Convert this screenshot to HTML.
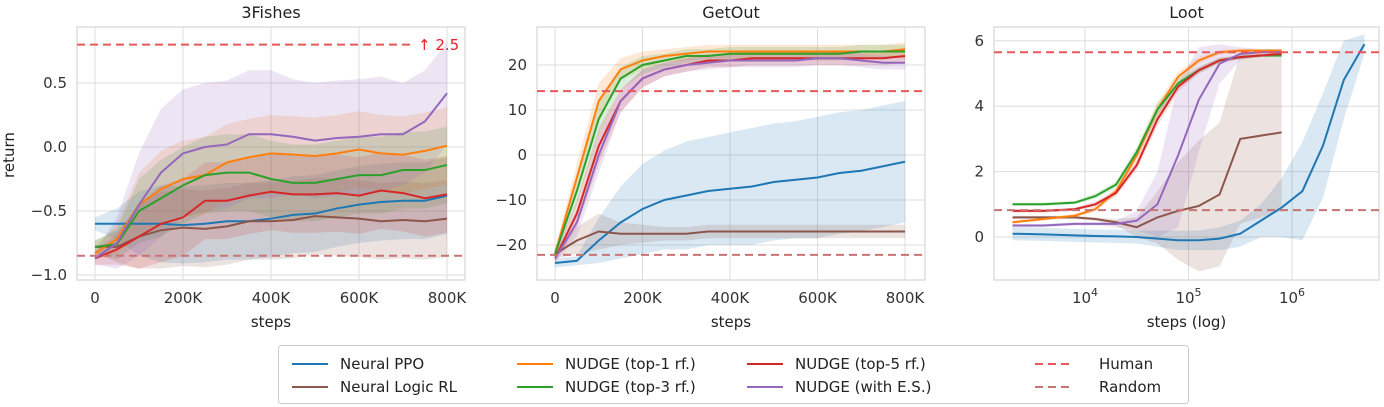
<!DOCTYPE html>
<html><head><meta charset="utf-8"><style>
body{margin:0;background:#fff;font-family:"Liberation Sans","DejaVu Sans",sans-serif}
svg{display:block}
</style></head><body>
<svg id="c" width="1384" height="407" viewBox="0 0 1384 407" font-family="DejaVu Sans, Liberation Sans, sans-serif"></svg>
<script>
const steps=[0,50,100,150,200,250,300,350,400,450,500,550,600,650,700,750,800];
const fishPurple=[-0.87,-0.75,-0.45,-0.2,-0.05,0,0.02,0.1,0.1,0.08,0.05,0.07,0.08,0.1,0.1,0.2,0.42];
const fishOrange=[-0.83,-0.72,-0.45,-0.33,-0.25,-0.22,-0.12,-0.08,-0.05,-0.06,-0.07,-0.05,-0.02,-0.05,-0.06,-0.03,0.01];
const fishGreen=[-0.78,-0.76,-0.5,-0.4,-0.3,-0.22,-0.2,-0.2,-0.25,-0.28,-0.28,-0.25,-0.22,-0.22,-0.18,-0.18,-0.14];
const fishRed=[-0.87,-0.8,-0.7,-0.6,-0.55,-0.42,-0.42,-0.38,-0.35,-0.37,-0.37,-0.36,-0.38,-0.34,-0.36,-0.4,-0.37];
const fishBlue=[-0.6,-0.6,-0.6,-0.6,-0.61,-0.6,-0.58,-0.58,-0.56,-0.53,-0.52,-0.48,-0.45,-0.43,-0.42,-0.42,-0.38];
const fishBrown=[-0.78,-0.78,-0.7,-0.65,-0.63,-0.64,-0.62,-0.58,-0.58,-0.57,-0.54,-0.55,-0.56,-0.58,-0.57,-0.58,-0.56];
const fishSpread=[0.05,0.12,0.25,0.3,0.3,0.3,0.3,0.3,0.3,0.3,0.3,0.3,0.3,0.3,0.3,0.3,0.3];
const fishPurpleSpread=[0.05,0.2,0.4,0.5,0.5,0.5,0.5,0.5,0.5,0.45,0.45,0.45,0.45,0.45,0.4,0.4,0.4];
const goOrange=[-22,-5,12,19,21,22,22.5,23,23,23,23,23,23,23,23,23,23.5];
const goGreen=[-22,-8,8,17,20,21,22,22,22.5,22.5,22.5,22.5,22.5,22.5,23,23,23];
const goRed=[-23,-13,2,12,17,19,20,21,21,21.5,21.5,21.5,21.5,21.5,21.5,21.5,22];
const goPurple=[-23,-15,0,12,17,19,20,20.5,21,21,21,21,21.5,21.5,21,20.5,20.5];
const goBlue=[-24,-23.5,-19,-15,-12,-10,-9,-8,-7.5,-7,-6,-5.5,-5,-4,-3.5,-2.5,-1.5];
const goBrown=[-22,-19,-17,-17.5,-17.5,-17.5,-17.5,-17,-17,-17,-17,-17,-17,-17,-17,-17,-17];
const goSpread=[1,3,4,2.5,2,1.5,1.5,1.5,1.5,1.5,1.5,1.5,1.5,1.5,1.5,1.5,1.5];
const goBlueSpread=[1,1,5,8,10,11,12,12,12.5,13,13,13,13.5,13.5,13.5,13.5,13.5];
const lootX=[3.3,3.6,3.9,4.1,4.3,4.5,4.7,4.9,5.1,5.3,5.5,5.7,5.9];
const lootBlueX=[3.3,3.6,3.9,4.1,4.3,4.5,4.7,4.9,5.1,5.3,5.5,5.7,5.9,6.1,6.3,6.5,6.7];
const lootGreen=[1.0,1.0,1.05,1.25,1.6,2.6,3.9,4.7,5.1,5.4,5.5,5.55,5.55];
const lootOrange=[0.45,0.55,0.65,0.85,1.4,2.5,3.9,4.9,5.4,5.65,5.7,5.7,5.7];
const lootRed=[0.8,0.8,0.85,1.0,1.35,2.2,3.6,4.6,5.1,5.4,5.5,5.55,5.6];
const lootPurple=[0.35,0.35,0.4,0.4,0.4,0.5,1.0,2.5,4.2,5.3,5.6,5.65,5.65];
const lootBrown=[0.6,0.6,0.6,0.55,0.45,0.3,0.6,0.8,0.95,1.3,3.0,3.1,3.2];
const lootBlue=[0.1,0.08,0.05,0.03,0.02,0,-0.05,-0.1,-0.1,-0.05,0.1,0.5,0.9,1.4,2.8,4.8,5.9];
const lootSpread=[0.05,0.05,0.05,0.08,0.1,0.15,0.2,0.15,0.1,0.08,0.06,0.05,0.05];
const lootPurpleSpread=[0.05,0.05,0.05,0.05,0.1,0.3,1.0,2.2,1.6,0.6,0.2,0.1,0.1];
const lootBrownSpread=[0.05,0.05,0.05,0.05,0.1,0.3,0.8,1.5,2.0,2.2,2.6,2.5,2.4];
const lootBlueSpread=[0.2,0.2,0.2,0.2,0.2,0.2,0.25,0.3,0.3,0.35,0.4,0.5,0.9,1.5,1.6,1.2,0.3];
const fishTicks=[-1.0,-0.5,0.0,0.5];
const goTicks=[-20,-10,0,10,20];
const lootTicks=[0,2,4,6];
const stepTicks=[0,200,400,600,800];
const logTicks=[4,5,6];
const C={blue:'#1f77b4',orange:'#ff7f0e',green:'#2ca02c',red:'#d62728',purple:'#9467bd',brown:'#8c564b'};
const svg=document.getElementById('c');
const NS='http://www.w3.org/2000/svg';
function el(t,a,p){const e=document.createElementNS(NS,t);for(const k in a)e.setAttribute(k,a[k]);(p||svg).appendChild(e);return e;}
function txt(s,a,name){const e=el('text',a);e.textContent=s;


return e;}
const defs=el('defs',{});
function panel(p){
  const g=el('g',{});
  
  
  const cp=el('clipPath',{id:'cp-'+p.name},defs);
  el('rect',{x:p.x0,y:p.y0,width:p.x1-p.x0,height:p.y1-p.y0},cp);
  el('rect',{x:p.x0,y:p.y0,width:p.x1-p.x0,height:p.y1-p.y0,fill:'#fff',stroke:'#ccc','stroke-width':1},g);
  p.xt.forEach((v,i)=>{const X=p.sx(v);el('line',{x1:X,x2:X,y1:p.y0,y2:p.y1,stroke:'#ddd'},g);
    const t=txt(p.xl[i],{x:X,y:p.y1+23,'text-anchor':'middle','font-size':15,fill:'#333'},'x-tick-label');
    if(p.log){t.textContent='10';const s=el('tspan',{dy:-7,'font-size':11},t);s.textContent=String(v);}});
  p.yt.forEach(v=>{const Y=p.sy(v);el('line',{x1:p.x0,x2:p.x1,y1:Y,y2:Y,stroke:'#ddd'},g);
    txt(p.ylf(v),{x:p.x0-10,y:Y+5,'text-anchor':'end','font-size':15,fill:'#333'},'y-tick-label');});
  const cg=el('g',{'clip-path':'url(#cp-'+p.name+')'});
  p.series.forEach(s=>{
    let up='',lo='';
    s.xs.forEach((x,i)=>{up+=(i?'L':'M')+p.sx(x)+','+p.sy(s.y[i]+s.sp[i]);});
    for(let i=s.xs.length-1;i>=0;i--)lo+='L'+p.sx(s.xs[i])+','+p.sy(s.y[i]-s.sp[i]);
    const b=el('path',{d:up+lo+'Z',fill:s.c,'fill-opacity':0.17},cg);
    
    
  });
  p.series.forEach(s=>{
    const d=s.xs.map((x,i)=>(i?'L':'M')+p.sx(x)+','+p.sy(s.y[i])).join('');
    const l=el('path',{d:d,fill:'none',stroke:s.c,'stroke-width':2},cg);
    
    
  });
  [[p.human,'#e8585a','human-line',p.hx1||p.x1],[p.random,'#c87474','random-line',p.x1]].forEach(h=>{
    const Y=p.sy(h[0]);const l=el('line',{x1:p.x0,x2:h[3],y1:Y,y2:Y,stroke:h[1],'stroke-width':2,'stroke-dasharray':'8,5'});
    
    
  });
  txt(p.title,{x:(p.x0+p.x1)/2,y:18,'text-anchor':'middle','font-size':16,fill:'#222'},'panel-title');
  txt(p.xlabel,{x:(p.x0+p.x1)/2,y:p.y1+47,'text-anchor':'middle','font-size':15,fill:'#222'},'x-axis-title');
}
function ser(xs,y,sp,c,n){return {xs,y,sp,c,n};}
const f=v=>(v<0?'\u2212':'')+Math.abs(v).toFixed(1);
const K=v=>v===0?'0':v+'K';
panel({name:'3fishes',title:'3Fishes',xlabel:'steps',x0:77,x1:465,y0:27,y1:280,hx1:410,
  sx:v=>95+v*(352/800),sy:v=>147-v*128,xt:stepTicks,xl:stepTicks.map(K),yt:fishTicks,ylf:f,human:0.8,random:-0.85,
  series:[ser(steps,fishBlue,fishSpread,C.blue,'neural-ppo'),ser(steps,fishBrown,fishSpread,C.brown,'neural-logic-rl'),
  ser(steps,fishOrange,fishSpread,C.orange,'nudge-top1'),ser(steps,fishGreen,fishSpread,C.green,'nudge-top3'),
  ser(steps,fishRed,fishSpread,C.red,'nudge-top5'),ser(steps,fishPurple,fishPurpleSpread,C.purple,'nudge-es')]});
txt('\u2191 2.5',{x:418,y:50,'font-size':15,fill:'#e8202a'},'human-offscale-label');
txt('return',{x:14,y:155,'text-anchor':'middle','font-size':15,fill:'#222',transform:'rotate(-90 14 155)'},'y-axis-title');
panel({name:'getout',title:'GetOut',xlabel:'steps',x0:537,x1:925,y0:27,y1:280,
  sx:v=>555+v*(350/800),sy:v=>155-v*4.5,xt:stepTicks,xl:stepTicks.map(K),yt:goTicks,ylf:v=>(v<0?'\u2212':'')+Math.abs(v),human:14.2,random:-22.2,
  series:[ser(steps,goBlue,goBlueSpread,C.blue,'neural-ppo'),ser(steps,goBrown,goSpread,C.brown,'neural-logic-rl'),
  ser(steps,goOrange,goSpread,C.orange,'nudge-top1'),ser(steps,goGreen,goSpread,C.green,'nudge-top3'),
  ser(steps,goRed,goSpread,C.red,'nudge-top5'),ser(steps,goPurple,goSpread,C.purple,'nudge-es')]});
panel({name:'loot',title:'Loot',xlabel:'steps (log)',log:true,x0:994,x1:1379,y0:27,y1:280,
  sx:v=>1085+(v-4)*103.5,sy:v=>237-v*32.7,xt:logTicks,xl:logTicks.map(String),yt:lootTicks,ylf:String,human:5.65,random:0.82,
  series:[ser(lootBlueX,lootBlue,lootBlueSpread,C.blue,'neural-ppo'),ser(lootX,lootBrown,lootBrownSpread,C.brown,'neural-logic-rl'),
  ser(lootX,lootOrange,lootSpread,C.orange,'nudge-top1'),ser(lootX,lootGreen,lootSpread,C.green,'nudge-top3'),
  ser(lootX,lootRed,lootSpread,C.red,'nudge-top5'),ser(lootX,lootPurple,lootPurpleSpread,C.purple,'nudge-es')]});
const lg=el('g',{});


el('rect',{x:278.5,y:345.5,width:910,height:58,rx:3,fill:'#fff',stroke:'#ccc'},lg);
const legendItems=[['Neural PPO',C.blue,292,364,0],['Neural Logic RL',C.brown,292,387,0],['NUDGE (top-1 rf.)',C.orange,517,364,0],
['NUDGE (top-3 rf.)',C.green,517,387,0],['NUDGE (top-5 rf.)',C.red,747,364,0],['NUDGE (with E.S.)',C.purple,747,387,0],
['Human','#e8585a',1035,364,1],['Random','#c87474',1035,387,1]];
legendItems.forEach(it=>{
  const l=el('line',{x1:it[2],x2:it[2]+36,y1:it[3],y2:it[3],stroke:it[1],'stroke-width':2});
  if(it[4])l.setAttribute('stroke-dasharray','8,5');
  
  
  txt(it[0],{x:it[4]?it[2]+64:it[2]+48,y:it[3]+5,'font-size':15,fill:'#222'},'legend-entry');
});
</script>
</body></html>
